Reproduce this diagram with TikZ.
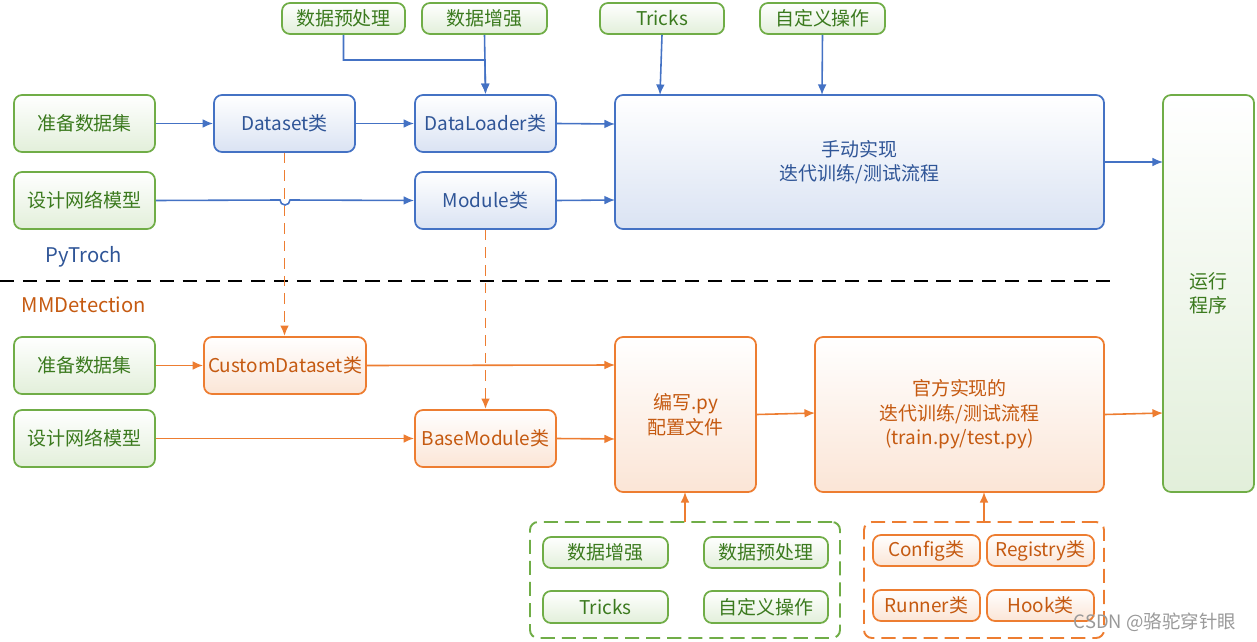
\documentclass[tikz,border=0pt]{standalone}
\usepackage{fontspec}
\setmainfont{Noto Sans CJK SC}
\usetikzlibrary{arrows.meta}
\definecolor{gB}{HTML}{70AD47}\definecolor{gT}{HTML}{3B7A1E}\definecolor{gF}{HTML}{E2EFDA}
\definecolor{bB}{HTML}{4472C4}\definecolor{bT}{HTML}{2F5597}\definecolor{bF}{HTML}{DAE3F3}
\definecolor{oB}{HTML}{ED7D31}\definecolor{oT}{HTML}{C55A11}\definecolor{oF}{HTML}{FBE5D6}
\begin{document}
\begin{tikzpicture}[x=0.02cm,y=-0.02cm,
 every node/.style={font=\fontsize{10.8}{14}\selectfont,align=center},
 bx/.style={draw,rounded corners=0.16cm,line width=1pt,inner sep=0pt},
 G/.style={bx,draw=gB,text=gT,top color=white,bottom color=gF},
 B/.style={bx,draw=bB,text=bT,top color=white,bottom color=bF},
 O/.style={bx,draw=oB,text=oT,top color=white,bottom color=oF},
 ba/.style={draw=bB,line width=0.9pt,-{Latex[length=6pt,width=5pt]}},
 oa/.style={draw=oB,line width=0.9pt,-{Latex[length=6pt,width=5pt]}},
 od/.style={oa,line width=1.1pt,dash pattern=on 6pt off 4pt}]
\useasboundingbox (0,0) rectangle (1257,642);
\newcommand\bnode[6]{\node[#1,minimum width={(#4-#2)*0.02cm},minimum height={(#5-#3)*0.02cm}] (#6) at ({(#2+#4)/2},{(#3+#5)/2})}
\bnode{G}{282}{3}{405}{34}{t1} {数据预处理};
\bnode{G}{422}{3}{547}{34}{t2} {数据增强};
\bnode{G}{600}{3}{724}{34}{t3} {Tricks};
\bnode{G}{760}{3}{885}{34}{t4} {自定义操作};
\bnode{G}{14}{95}{155}{152}{p1} {准备数据集};
\bnode{G}{14}{172}{155}{229}{p2} {设计网络模型};
\bnode{B}{214}{95}{355}{152}{ds} {Dataset类};
\bnode{B}{415}{95}{556}{152}{dl} {DataLoader类};
\bnode{B}{415}{172}{556}{229}{md} {Module类};
\bnode{B}{615}{95}{1104}{229}{man} {手动实现\\迭代训练/测试流程};
\bnode{G}{1163}{95}{1254}{492}{run} {运行\\程序};
\node[text=bT,font=\fontsize{11.5}{14}\selectfont] (pt) at (84,257) {PyTroch};
\node[text=oT,font=\fontsize{11.5}{14}\selectfont] (mm) at (84,305) {MMDetection};
\coordinate (l0) at (0,281); \coordinate (l1) at (1112,281);
\draw[line width=1pt,dash pattern=on 8pt off 5pt] (l0) -- (l1);
\bnode{G}{14}{337}{155}{394}{q1} {准备数据集};
\bnode{G}{14}{410}{155}{467}{q2} {设计网络模型};
\bnode{O}{204}{337}{366}{394}{cd} {CustomDataset类};
\bnode{O}{415}{410}{556}{467}{bm} {BaseModule类};
\bnode{O}{615}{337}{756}{492}{cfg} {编写.py\\配置文件};
\bnode{O}{815}{337}{1104}{492}{off} {官方实现的\\迭代训练/测试流程\\(train.py/test.py)};
\bnode{bx,draw=gB,line width=1.1pt,dash pattern=on 8pt off 4pt,fill=none}{530}{522}{840}{638}{gg} {};
\bnode{G}{543}{537}{668}{568}{g1} {数据增强};
\bnode{G}{704}{537}{828}{568}{g2} {数据预处理};
\bnode{G}{543}{591}{668}{623}{g3} {Tricks};
\bnode{G}{704}{591}{828}{623}{g4} {自定义操作};
\bnode{bx,draw=oB,line width=1.1pt,dash pattern=on 8pt off 4pt,fill=none}{864}{522}{1104}{638}{og} {};
\bnode{O}{873}{535}{980}{566}{o1} {Config类};
\bnode{O}{987}{535}{1094}{566}{o2} {Registry类};
\bnode{O}{873}{590}{980}{621}{o3} {Runner类};
\bnode{O}{987}{590}{1094}{621}{o4} {Hook类};
\node[text=gray!80,font=\fontsize{10.5}{12}\selectfont] (wm) at (1155,622) {CSDN @骆驼穿针眼};
% blue arrows
\draw[ba] (t1.south) |- (485,60) -- (dl.north);
\draw[ba] (t2.south) -- (dl.north);
\draw[ba] (t3.south) -- (660,95);
\draw[ba] (t4.south) -- (822,95);
\draw[ba] (p1) -- (ds);
\draw[ba] (ds) -- (dl);
\draw[ba] (dl.east) -- (615,124);
\draw[ba] (p2.east) -- (280,200) arc[start angle=180,end angle=0,radius=5] -- (md.west);
\draw[ba] (md.east) -- (615,200);
\draw[ba] (1104,162) -- (1163,162);
% orange
\draw[od] (ds.south) -- (cd.north -| ds.south);
\draw[od] (md.south) -- (bm.north);
\draw[oa] (q1) -- (cd);
\draw[oa] (cd.east) -- (615,365);
\draw[oa] (q2) -- (bm);
\draw[oa] (bm.east) -- (615,439);
\draw[oa] (cfg.east) -- (815,413);
\draw[oa] (off.east) -- (1163,413);
\draw[oa] (685,522) -- (685,492);
\draw[oa] (984,522) -- (984,492);
\end{tikzpicture}
\end{document}
